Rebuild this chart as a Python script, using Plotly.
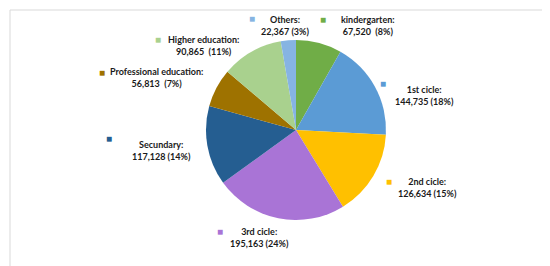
import plotly.graph_objects as go

# ---- data ----
categories = ["kindergarten", "1st cicle", "2nd cicle", "3rd cicle",
              "Secundary", "Professional education", "Higher education", "Others"]
values = [67520, 144735, 126634, 195163, 117128, 56813, 90865, 22367]
colors = ["#70AD47", "#5B9BD5", "#FFC000", "#A974D6",
          "#255E91", "#9E7200", "#A9D18E", "#86B4E2"]
# separator between value and percent, as written in the original
separators = ["&nbsp;&nbsp;", " ", " ", " ", " ", "&nbsp;&nbsp;", "&nbsp;&nbsp;", " "]

# ---- layout (pixels in a 550x266 canvas) ----
W, H = 550, 266
CX, CY, R = 288, 122, 90
# label text centre (x, y) and key square (x, y)
label_pos = [(360, 17), (416, 87), (419, 179), (251, 229),
             (153, 142), (148, 70), (195, 38), (277, 17)]
key_pos = [(315, 11), (375, 75), (381, 173), (212, 223),
           (101, 130), (94, 64), (150, 31), (244, 10)]

def px(x):
    return x / W

def py(y):
    return 1 - y / H

total = sum(values)

fig = go.Figure(go.Pie(
    labels=categories, values=values, sort=False, direction="clockwise",
    rotation=0, marker=dict(colors=colors, line=dict(width=0)),
    textinfo="none", hoverinfo="label+value+percent", showlegend=False,
    domain=dict(x=[px(CX - R), px(CX + R)], y=[py(CY + R), py(CY - R)]),
))

annotations = []
for cat, v, c, sep, (lx, ly), (kx, ky) in zip(categories, values, colors, separators, label_pos, key_pos):
    pct = round(v / total * 100)
    annotations.append(dict(
        x=px(lx), y=py(ly), xref="paper", yref="paper", showarrow=False,
        xanchor="center", yanchor="middle", align="center",
        text=f"<b>{cat}:</b><br><b>{v:,}{sep}({pct}%)</b>",
        font=dict(family="Lato, Carlito, sans-serif", size=9, color="#1A1A1A"),
    ))
    annotations.append(dict(
        x=px(kx), y=py(ky), xref="paper", yref="paper", showarrow=False,
        xanchor="center", yanchor="middle",
        text="■", font=dict(size=10, color=c),
    ))

fig.update_layout(
    width=W, height=H, margin=dict(l=0, r=0, t=0, b=0),
    paper_bgcolor="white", plot_bgcolor="white",
    annotations=annotations,
    shapes=[dict(type="rect", xref="paper", yref="paper",
                 x0=px(2), x1=px(547), y0=py(262), y1=py(2),
                 line=dict(color="#D9D9D9", width=1))],
)

fig.write_html("out.html")
